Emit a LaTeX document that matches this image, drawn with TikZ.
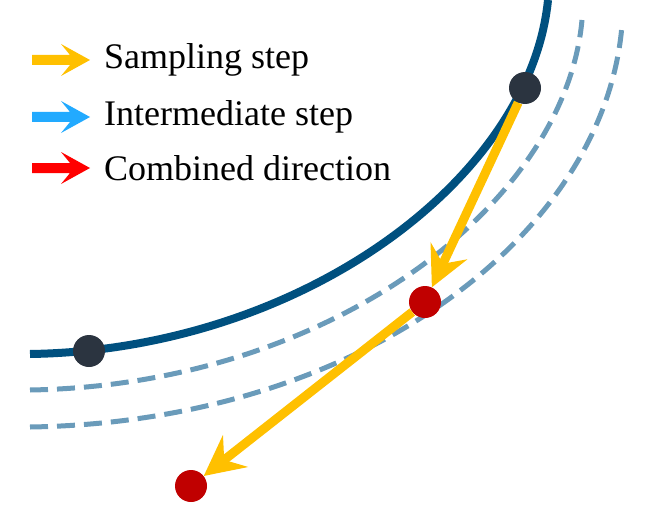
\documentclass[tikz,border=0pt]{standalone}
\usepackage{fontspec}
\setmainfont{Liberation Serif}
\usetikzlibrary{arrows.meta}
\definecolor{yel}{HTML}{FFC000}
\definecolor{blu}{HTML}{22AAFF}
\definecolor{redl}{HTML}{FF0000}
\definecolor{solidc}{HTML}{00507F}
\definecolor{dashc}{HTML}{6A9BBA}
\definecolor{dotd}{HTML}{2B3440}
\definecolor{dotr}{HTML}{C00000}
\begin{document}
\begin{tikzpicture}[x=1pt,y=-1pt,
  legtext/.style={anchor=west,font=\fontsize{36}{40}\selectfont,inner sep=0},
  dot/.style={circle,fill=#1,minimum size=32pt,inner sep=0},
  stepline/.style={yel,line width=9pt,-{Stealth[length=40pt,width=40pt,inset=14pt]}},
  dcurve/.style={dashc,line width=5pt,dash pattern=on 18pt off 9pt}]
\useasboundingbox (0,0) rectangle (650,532);
% curves
\draw[solidc,line width=8pt] (30,354) .. controls (300,350) and (530,180) .. (548,0);
\draw[dcurve] (30,390) .. controls (330,385) and (565,205) .. (582,20);
\draw[dcurve] (30,427) .. controls (360,422) and (605,235) .. (622,25);
% dots
\node[dot=dotd] (a) at (89,351) {};
\node[dot=dotd] (b) at (525,88) {};
\node[dot=dotr] (c) at (425,302) {};
\node[dot=dotr] (d) at (191,486) {};
\draw[stepline] (b) -- (c);
\draw[stepline] (c) -- (d);
% legend
\foreach \y/\c/\t [count=\i] in {60/yel/Sampling step,117/blu/Intermediate step,168/redl/Combined direction}{
  \fill[\c] (32,\y-5) -- (70,\y-5) -- (61,\y-16) -- (90,\y) -- (61,\y+16) -- (70,\y+5) -- (32,\y+5) -- cycle;
  \node[legtext] (l\i) at (104,\y) {\t};
}
\end{tikzpicture}
\end{document}
